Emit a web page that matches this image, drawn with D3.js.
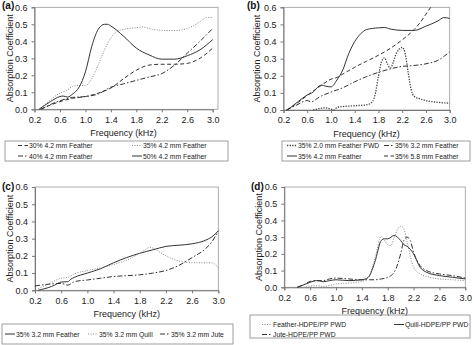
<!DOCTYPE html>
<html>
<head>
<meta charset="utf-8">
<script src="https://cdn.jsdelivr.net/npm/d3@7"></script>
<style>
  body { margin: 0; background: #fff; }
  svg { font-family: "Liberation Sans", Arial, sans-serif; }
</style>
</head>
<body>
<svg width="474" height="345"></svg>
<script>
// frequency (kHz), absorption coefficient pairs
// (a) feather content, 4.2 mm
const a30 = [[0.3,0],[0.45,0.025],[0.6,0.045],[0.8,0.065],[1.0,0.075],[1.2,0.095],[1.4,0.125],[1.6,0.18],[1.8,0.23],[2.0,0.26],[2.2,0.265],[2.4,0.265],[2.6,0.27],[2.8,0.3],[3.0,0.36]];
const a35 = [[0.28,0],[0.45,0.055],[0.6,0.095],[0.7,0.11],[0.8,0.135],[0.9,0.14],[1.0,0.14],[1.1,0.18],[1.2,0.26],[1.3,0.35],[1.4,0.42],[1.5,0.46],[1.6,0.47],[1.8,0.48],[1.9,0.485],[2.0,0.475],[2.2,0.465],[2.4,0.463],[2.6,0.475],[2.8,0.515],[2.9,0.54],[3.0,0.54]];
const a40 = [[0.3,0],[0.45,0.028],[0.6,0.05],[0.8,0.07],[1.0,0.075],[1.2,0.09],[1.4,0.13],[1.6,0.15],[1.8,0.17],[2.0,0.19],[2.2,0.21],[2.4,0.26],[2.6,0.33],[2.8,0.4],[3.0,0.475]];
const a50 = [[0.27,0],[0.45,0.045],[0.6,0.075],[0.65,0.078],[0.72,0.072],[0.8,0.09],[0.9,0.13],[1.0,0.22],[1.1,0.37],[1.2,0.47],[1.3,0.5],[1.35,0.5],[1.4,0.49],[1.6,0.43],[1.8,0.36],[2.0,0.32],[2.2,0.295],[2.4,0.295],[2.6,0.315],[2.8,0.35],[3.0,0.41]];
// (b) 35 % feather, thickness
const b20 = [[0.7,0],[0.9,0.012],[1.0,0.005],[1.05,0.0],[1.1,0.015],[1.2,0.02],[1.4,0.025],[1.6,0.03],[1.7,0.05],[1.75,0.1],[1.8,0.2],[1.85,0.28],[1.9,0.305],[1.95,0.27],[2.0,0.245],[2.05,0.28],[2.1,0.33],[2.2,0.365],[2.25,0.33],[2.3,0.22],[2.35,0.12],[2.4,0.08],[2.5,0.065],[2.6,0.055],[2.8,0.045],[3.0,0.04]];
const b32 = [[0.25,0],[0.4,0.025],[0.6,0.055],[0.67,0.048],[0.8,0.075],[1.0,0.105],[1.2,0.13],[1.4,0.165],[1.6,0.195],[1.8,0.22],[2.0,0.24],[2.2,0.255],[2.4,0.26],[2.6,0.27],[2.8,0.29],[3.0,0.34]];
const b42 = [[0.27,0],[0.45,0.05],[0.6,0.088],[0.7,0.105],[0.8,0.14],[0.85,0.145],[0.9,0.14],[1.0,0.135],[1.1,0.175],[1.2,0.235],[1.3,0.33],[1.4,0.4],[1.5,0.445],[1.6,0.47],[1.8,0.48],[1.9,0.482],[2.0,0.473],[2.2,0.465],[2.4,0.465],[2.6,0.49],[2.8,0.52],[2.9,0.54],[3.0,0.535]];
const b58 = [[0.25,0],[0.45,0.045],[0.6,0.085],[0.8,0.135],[1.0,0.18],[1.1,0.19],[1.2,0.21],[1.4,0.25],[1.6,0.285],[1.8,0.32],[2.0,0.36],[2.2,0.41],[2.4,0.47],[2.5,0.51],[2.6,0.56],[2.68,0.6]];
// (c) 35 %, 3.2 mm, fibre type
const cFeather = [[0.25,0],[0.3,0.005],[0.4,0.015],[0.5,0.03],[0.6,0.048],[0.7,0.05],[0.75,0.065],[0.8,0.075],[1.0,0.1],[1.2,0.125],[1.4,0.16],[1.6,0.19],[1.8,0.215],[2.0,0.235],[2.2,0.255],[2.4,0.262],[2.6,0.27],[2.8,0.29],[2.9,0.31],[3.0,0.345]];
const cQuill = [[0.25,0.01],[0.4,0.035],[0.6,0.07],[0.7,0.075],[0.8,0.095],[1.0,0.115],[1.2,0.13],[1.4,0.15],[1.6,0.175],[1.8,0.215],[1.9,0.24],[1.95,0.25],[2.0,0.245],[2.2,0.2],[2.4,0.17],[2.6,0.16],[2.8,0.16],[2.9,0.16],[3.0,0.13]];
const cJute = [[0.2,0.025],[0.4,0.035],[0.6,0.04],[0.7,0.03],[0.8,0.05],[1.0,0.06],[1.2,0.07],[1.4,0.08],[1.6,0.085],[1.8,0.09],[2.0,0.1],[2.2,0.115],[2.4,0.145],[2.6,0.19],[2.8,0.24],[2.9,0.28],[3.0,0.345]];
// (d) HDPE/PP perforated wood
const dFeather = [[0.5,0],[0.7,0.01],[0.8,0.005],[1.0,0.02],[1.2,0.025],[1.4,0.035],[1.5,0.06],[1.6,0.17],[1.7,0.305],[1.8,0.255],[1.85,0.25],[1.9,0.3],[2.0,0.365],[2.05,0.35],[2.1,0.27],[2.2,0.12],[2.3,0.08],[2.4,0.065],[2.6,0.05],[2.8,0.045],[3.0,0.04]];
const dQuill = [[0.4,0],[0.5,0.015],[0.6,0.03],[0.7,0.04],[0.75,0.038],[0.8,0.033],[0.9,0.04],[1.0,0.045],[1.2,0.04],[1.4,0.045],[1.5,0.06],[1.6,0.15],[1.7,0.28],[1.75,0.29],[1.8,0.29],[1.9,0.31],[2.0,0.28],[2.05,0.255],[2.1,0.245],[2.2,0.2],[2.3,0.12],[2.4,0.09],[2.6,0.07],[2.8,0.06],[3.0,0.05]];
const dJute = [[0.4,0],[0.5,0.015],[0.6,0.035],[0.7,0.04],[0.8,0.04],[0.9,0.05],[1.0,0.055],[1.2,0.05],[1.4,0.045],[1.6,0.045],[1.7,0.05],[1.8,0.06],[1.9,0.09],[2.0,0.2],[2.05,0.28],[2.1,0.3],[2.15,0.28],[2.2,0.21],[2.3,0.13],[2.4,0.1],[2.6,0.08],[2.8,0.07],[3.0,0.055]];

const xTicks = [0.2, 0.6, 1.0, 1.4, 1.8, 2.2, 2.6, 3.0];
const yTicks = [0, 0.1, 0.2, 0.3, 0.4, 0.5, 0.6];

const styles = {
  solid:   { dash: null,        color: "#333", w: 1 },
  dash:    { dash: "4,2.5",     color: "#333", w: 1 },
  dot:     { dash: "1,1.5",     color: "#888", w: 1 },
  dotDark: { dash: "1.3,1.3",   color: "#444", w: 1.3 },
  dashDot: { dash: "5,2,1.5,2", color: "#333", w: 1 }
};

const panels = [
  { label: "(a)", lx: 2, ly: 9, left: 34.5, right: 212.7, boxRight: 218, top: 7.3, bottom: 109.3, titleX: 10,
    series: [["30% 4.2 mm Feather", a30, "dash"], ["35% 4.2 mm Feather", a35, "dot"],
             ["40% 4.2 mm Feather", a40, "dashDot"], ["50% 4.2 mm Feather", a50, "solid"]],
    legend: { x: 5, y: 141, w: 223, h: 20, cols: [18, 132], rows: [145.5, 156] } },
  { label: "(b)", lx: 247, ly: 9, left: 283.5, right: 449.7, top: 7.3, bottom: 110, titleX: 257,
    series: [["35% 2.0 mm Feather PWD", b20, "dotDark"], ["35% 3.2 mm Feather", b32, "dashDot"],
             ["35% 4.2 mm Feather", b42, "solid"], ["35% 5.8 mm Feather", b58, "dash"]],
    legend: { x: 282, y: 141, w: 188, h: 20, cols: [287, 384], rows: [145.5, 156] } },
  { label: "(c)", lx: 2, ly: 190, left: 35, right: 218.3, top: 187, bottom: 290.3, titleX: 10,
    series: [["35% 3.2 mm Feather", cFeather, "solid"], ["35% 3.2 mm Quill", cQuill, "dot"],
             ["35% 3.2 mm Jute", cJute, "dashDot"]],
    legend: { x: 2, y: 324, w: 231, h: 20, cols: [5, 88, 160], rows: [334] } },
  { label: "(d)", lx: 251, ly: 190, left: 284.3, right: 465.3, top: 187, bottom: 287.3, titleX: 258.5,
    series: [["Feather-HDPE/PP PWD", dFeather, "dot"], ["Quill-HDPE/PP PWD", dQuill, "solid"],
             ["Jute-HDPE/PP PWD", dJute, "dashDot"]],
    legend: { x: 250, y: 315, w: 220, h: 23, cols: [262, 394], rows: [324.5, 334.5] } }
];

const svg = d3.select("svg");

panels.forEach(p => {
  const g = svg.append("g");
  const x = d3.scaleLinear().domain([0.2, 3.0]).range([p.left, p.right]);
  const y = d3.scaleLinear().domain([0, 0.6]).range([p.bottom, p.top]);
  const boxRight = p.boxRight || p.right;

  // plot frame
  g.append("rect")
    .attr("x", p.left).attr("y", p.top)
    .attr("width", boxRight - p.left).attr("height", p.bottom - p.top)
    .attr("fill", "none").attr("stroke", "#999").attr("stroke-width", 0.8);

  const xAxis = g.append("g")
    .attr("transform", `translate(0,${p.bottom})`)
    .call(d3.axisBottom(x).tickValues(xTicks).tickSize(3).tickPadding(4).tickFormat(d3.format(".1f")));
  const yAxis = g.append("g")
    .attr("transform", `translate(${p.left},0)`)
    .call(d3.axisLeft(y).tickValues(yTicks).tickSize(3).tickPadding(4).tickFormat(d3.format(".1f")));
  [xAxis, yAxis].forEach(ax => {
    ax.select(".domain").attr("stroke", "#777");
    ax.selectAll(".tick line").attr("stroke", "#777");
    ax.selectAll("text").attr("fill", "#222").style("font-size", "9px");
  });

  g.append("text")
    .attr("x", p.lx).attr("y", p.ly)
    .style("font-size", "10px").style("font-weight", "bold").attr("fill", "#111")
    .text(p.label);

  g.append("text")
    .attr("transform", `translate(${p.titleX},${(p.top + p.bottom) / 2}) rotate(-90)`)
    .attr("text-anchor", "middle").attr("dominant-baseline", "central")
    .style("font-size", "9px").attr("fill", "#222")
    .text("Absorption Coefficient");

  g.append("text")
    .attr("x", (p.left + p.right) / 2).attr("y", p.bottom + 27)
    .attr("text-anchor", "middle")
    .style("font-size", "9px").attr("fill", "#222")
    .text("Frequency (kHz)");

  const line = d3.line()
    .x(d => x(d[0])).y(d => y(d[1]))
    .curve(d3.curveMonotoneX);

  p.series.forEach(([name, data, st]) => {
    const s = styles[st];
    g.append("path")
      .datum(data)
      .attr("d", line)
      .attr("fill", "none")
      .attr("stroke", s.color)
      .attr("stroke-width", s.w)
      .attr("stroke-dasharray", s.dash);
  });

  // legend
  const L = p.legend;
  g.append("rect")
    .attr("x", L.x).attr("y", L.y).attr("width", L.w).attr("height", L.h)
    .attr("fill", "none").attr("stroke", "#888").attr("stroke-width", 0.8);
  p.series.forEach(([name, data, st], i) => {
    const nc = L.cols.length;
    const cx = L.cols[i % nc];
    const cy = L.rows[Math.floor(i / nc)];
    const s = styles[st];
    g.append("line")
      .attr("x1", cx).attr("x2", cx + 10).attr("y1", cy).attr("y2", cy)
      .attr("stroke", s.color).attr("stroke-width", s.w)
      .attr("stroke-dasharray", s.dash);
    g.append("text")
      .attr("x", cx + 11).attr("y", cy).attr("dominant-baseline", "central")
      .style("font-size", "6.8px").attr("fill", "#222")
      .text(name);
  });
});
</script>
</body>
</html>
